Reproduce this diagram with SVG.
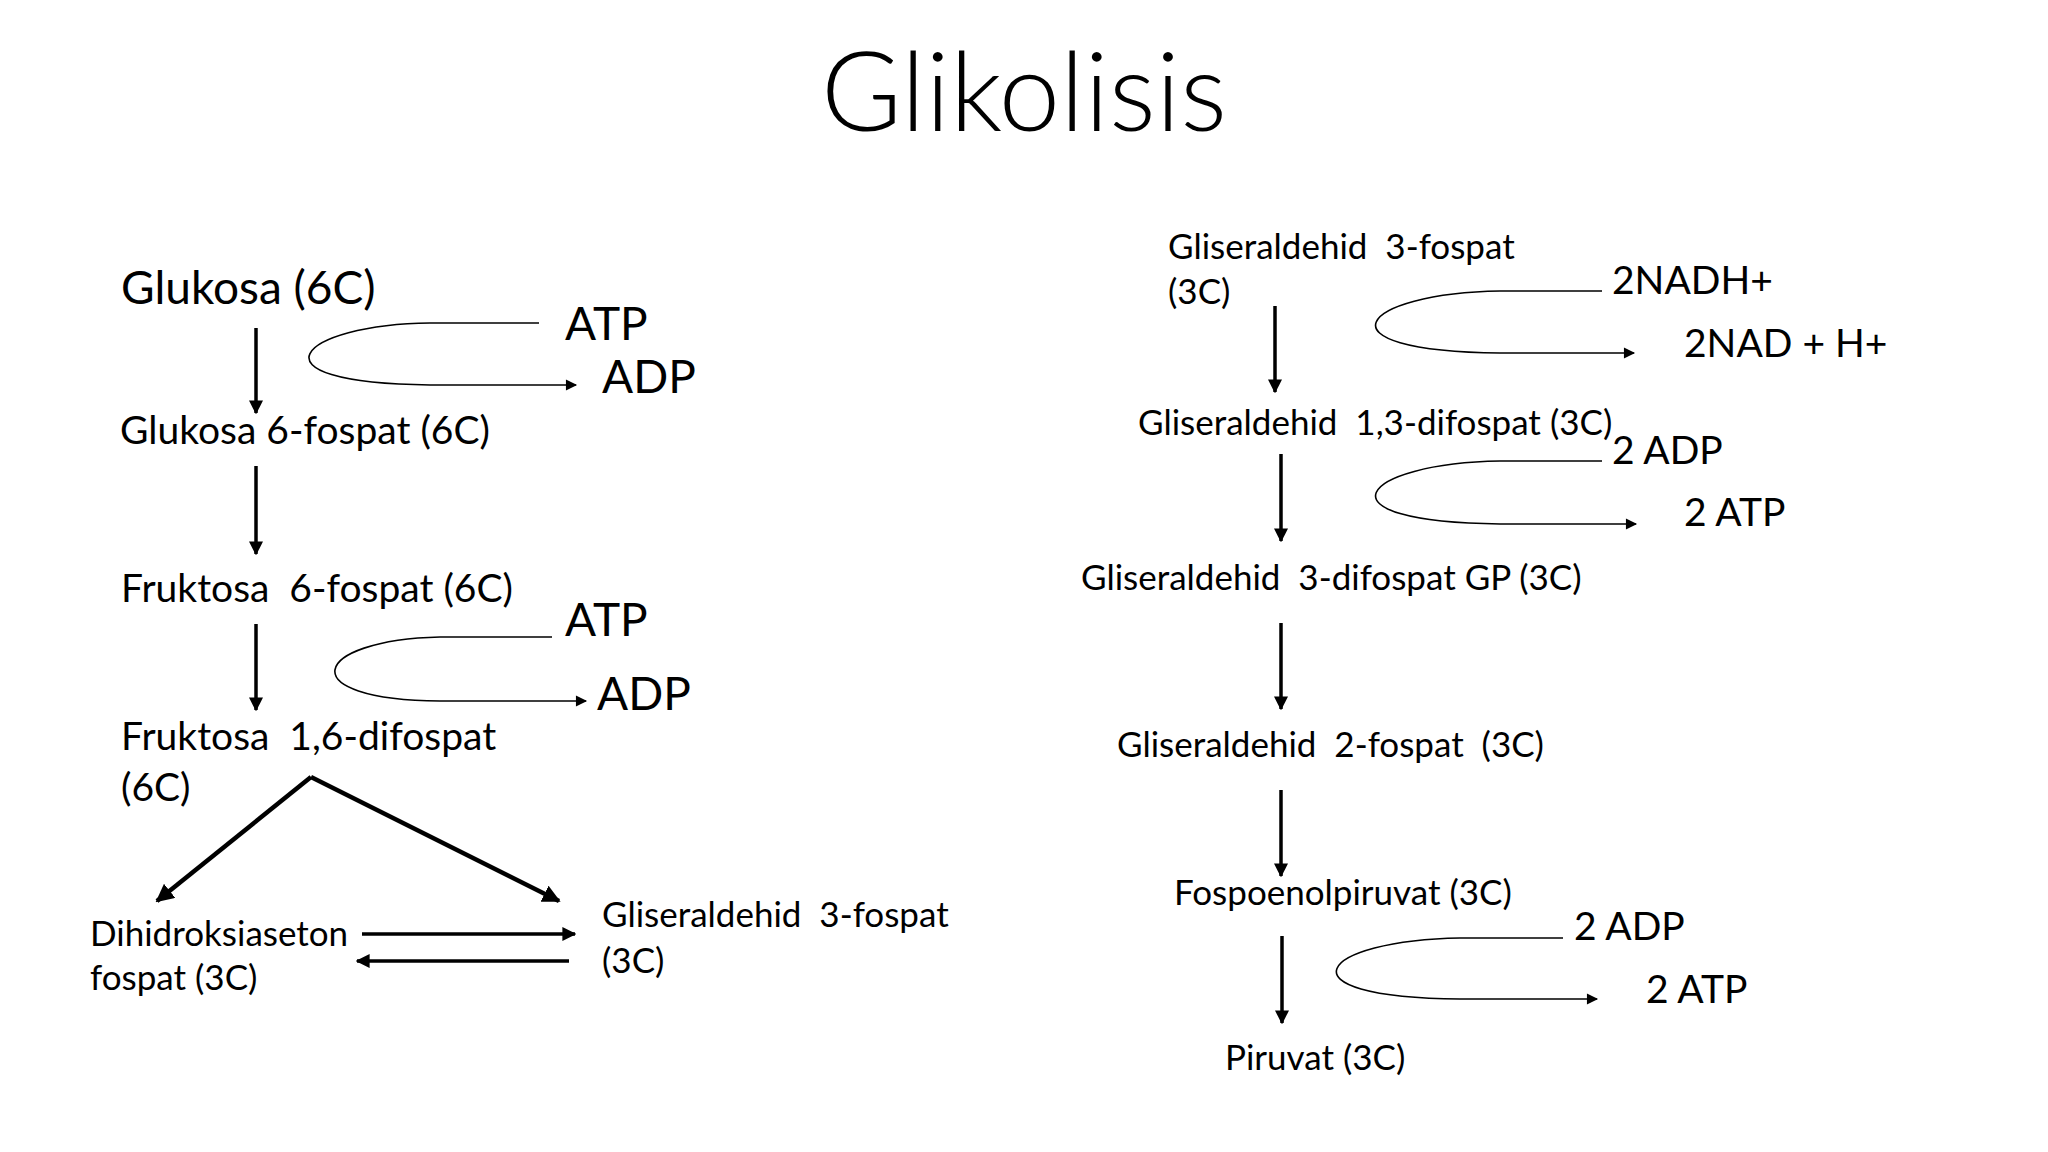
<svg xmlns="http://www.w3.org/2000/svg" width="2048" height="1152" viewBox="0 0 2048 1152">
<style>
text{font-family:Lato,"Open Sans",sans-serif;fill:#000}
.t{font-size:35px}.m{font-size:39px}.b{font-size:46px}
.v{stroke:#000;stroke-width:3.5;fill:none;marker-end:url(#a)}
.c{stroke:#000;stroke-width:1.6;fill:none;marker-end:url(#s)}
.d{stroke:#000;stroke-width:4.5;fill:none;marker-end:url(#a)}
</style>
<defs>
<marker id="a" viewBox="0 0 10 10" refX="9" refY="5" markerWidth="4" markerHeight="4" orient="auto" markerUnits="strokeWidth"><path d="M0,0L10,5L0,10z"/></marker>
<marker id="s" viewBox="0 0 10 10" refX="9" refY="5" markerWidth="8" markerHeight="7" orient="auto" markerUnits="strokeWidth"><path d="M0,0L10,5L0,10z"/></marker>
</defs>
<rect width="2048" height="1152" fill="#fff"/>
<text x="1024" y="131" text-anchor="middle" style="font-size:110px;font-weight:300">Glikolisis</text>
<g id="n1"><text class="b" x="121" y="304">Glukosa (6C)</text></g>
<g id="n2"><text class="b" x="565" y="340">ATP</text><text class="b" x="602" y="393">ADP</text></g>
<g id="n3"><text class="m" x="120" y="444">Glukosa 6-fospat (6C)</text></g>
<g id="n4"><text class="m" x="121" y="602" xml:space="preserve">Fruktosa  6-fospat (6C)</text></g>
<g id="n5"><text class="b" x="565" y="636">ATP</text><text class="b" x="597" y="710">ADP</text></g>
<g id="n6"><text class="m" x="121" y="750" xml:space="preserve">Fruktosa  1,6-difospat</text><text class="m" x="121" y="801">(6C)</text></g>
<g id="n7"><text class="t" x="90" y="946">Dihidroksiaseton</text><text class="t" x="90" y="990">fospat (3C)</text></g>
<g id="n8"><text class="t" x="602" y="927" xml:space="preserve">Gliseraldehid  3-fospat</text><text class="t" x="602" y="973">(3C)</text></g>
<g id="n9"><text class="t" x="1168" y="259" xml:space="preserve">Gliseraldehid  3-fospat</text><text class="t" x="1168" y="304">(3C)</text></g>
<g id="n10"><text class="m" x="1612" y="294">2NADH+</text><text class="m" x="1684" y="357">2NAD + H+</text></g>
<g id="n11"><text class="t" x="1138" y="435" xml:space="preserve">Gliseraldehid  1,3-difospat (3C)</text></g>
<g id="n12"><text class="m" x="1612" y="464">2 ADP</text><text class="m" x="1684" y="526">2 ATP</text></g>
<g id="n13"><text class="t" x="1081" y="590" xml:space="preserve">Gliseraldehid  3-difospat GP (3C)</text></g>
<g id="n14"><text class="t" x="1117" y="757" xml:space="preserve">Gliseraldehid  2-fospat  (3C)</text></g>
<g id="n15"><text class="t" x="1174" y="905">Fospoenolpiruvat (3C)</text></g>
<g id="n16"><text class="m" x="1574" y="940">2 ADP</text><text class="m" x="1646" y="1003">2 ATP</text></g>
<g id="n17"><text class="t" x="1225" y="1070">Piruvat (3C)</text></g>
<g id="connectors">
<path class="v" d="M256 328V413"/><path class="v" d="M256 466V554"/><path class="v" d="M256 624V710"/>
<path class="c" d="M539 323L430 323C300 324 240 383 430 385L576 385"/>
<path class="c" d="M552 637L440 637C310 640 290 700 440 701L586 701"/>
<path class="d" d="M311 777L157 901"/><path class="d" d="M311 777L559 901"/>
<path class="v" d="M362 934H575"/><path class="v" d="M569 961H357"/>
<path class="v" d="M1275 306V392"/><path class="v" d="M1281 454V541"/><path class="v" d="M1281 623V709"/><path class="v" d="M1281 790V876"/><path class="v" d="M1282 936V1023"/>
<path class="c" d="M1602 291L1500 291C1360 293 1310 351 1500 353L1634 353"/>
<path class="c" d="M1602 461L1500 461C1360 463 1310 522 1500 524L1636 524"/>
<path class="c" d="M1563 938L1460 938C1320 940 1272 997 1460 999L1597 999"/>
</g>
</svg>
